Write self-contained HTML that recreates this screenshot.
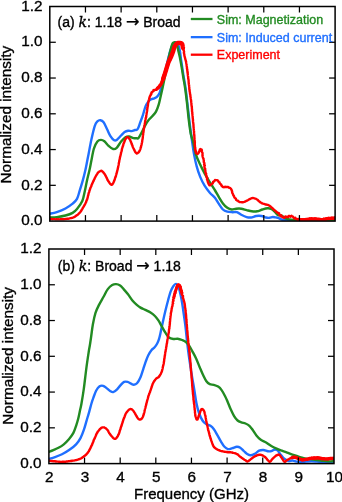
<!DOCTYPE html>
<html><head><meta charset="utf-8"><title>Normalized intensity vs frequency</title>
<style>html,body{margin:0;padding:0;background:#fff;overflow:hidden}svg{display:block}</style>
</head><body>
<svg width="342" height="502" viewBox="0 0 342 502">
<defs><clipPath id="ca"><rect x="49.80" y="6.50" width="285.30" height="214.60"/></clipPath><clipPath id="cb"><rect x="48.90" y="249.00" width="285.10" height="214.60"/></clipPath></defs>
<rect width="342" height="502" fill="#fff"/>
<g clip-path="url(#ca)"><path d="M49.50,213.80C50.72,213.52 54.13,212.98 56.80,212.10C59.47,211.22 62.87,209.90 65.50,208.50C68.13,207.10 70.68,205.30 72.60,203.70C74.52,202.10 75.82,201.07 77.00,198.90C78.18,196.73 78.73,193.78 79.70,190.70C80.67,187.62 81.85,183.85 82.80,180.40C83.75,176.95 84.67,173.23 85.40,170.00C86.13,166.77 86.67,163.68 87.20,161.00C87.73,158.32 87.92,157.42 88.60,153.90C89.28,150.38 90.27,144.58 91.30,139.90C92.33,135.22 93.78,128.88 94.80,125.80C95.82,122.72 96.47,122.33 97.40,121.40C98.33,120.47 99.37,120.05 100.40,120.20C101.43,120.35 102.48,120.78 103.60,122.30C104.72,123.82 105.93,126.95 107.10,129.30C108.27,131.65 109.43,134.58 110.60,136.40C111.77,138.22 113.08,139.62 114.10,140.20C115.12,140.78 115.53,140.68 116.70,139.90C117.87,139.12 119.78,136.82 121.10,135.50C122.42,134.18 123.43,132.80 124.60,132.00C125.77,131.20 126.93,130.85 128.10,130.70C129.27,130.55 130.45,131.22 131.60,131.10C132.75,130.98 134.00,130.32 135.00,130.00C136.00,129.68 136.72,130.50 137.60,129.20C138.48,127.90 139.42,124.55 140.30,122.20C141.18,119.85 142.03,117.73 142.90,115.10C143.77,112.47 144.62,108.62 145.50,106.40C146.38,104.18 147.32,102.97 148.20,101.80C149.08,100.63 149.78,99.98 150.80,99.40C151.82,98.82 153.28,98.73 154.30,98.30C155.32,97.87 156.02,97.68 156.90,96.80C157.78,95.92 158.87,94.63 159.60,93.00C160.33,91.37 160.72,88.87 161.30,87.00C161.88,85.13 162.45,84.30 163.10,81.80C163.75,79.30 164.45,75.47 165.20,72.00C165.95,68.53 166.77,64.50 167.60,61.00C168.43,57.50 169.38,53.67 170.20,51.00C171.02,48.33 171.78,46.38 172.50,45.00C173.22,43.62 173.88,43.13 174.50,42.70C175.12,42.27 175.65,42.22 176.20,42.40C176.75,42.58 177.20,42.43 177.80,43.80C178.40,45.17 179.25,47.90 179.80,50.60C180.35,53.30 180.53,56.12 181.10,60.00C181.67,63.88 182.42,68.93 183.20,73.90C183.98,78.87 185.02,84.12 185.80,89.80C186.58,95.48 187.20,101.97 187.90,108.00C188.60,114.03 189.33,120.67 190.00,126.00C190.67,131.33 191.23,135.32 191.90,140.00C192.57,144.68 193.20,149.70 194.00,154.10C194.80,158.50 195.67,162.60 196.70,166.40C197.73,170.20 198.88,173.68 200.20,176.90C201.52,180.12 203.00,183.07 204.60,185.70C206.20,188.33 208.05,190.65 209.80,192.70C211.55,194.75 213.65,196.22 215.10,198.00C216.55,199.78 217.20,201.48 218.50,203.40C219.80,205.32 221.43,208.12 222.90,209.50C224.37,210.88 225.70,211.25 227.30,211.70C228.90,212.15 230.90,212.12 232.50,212.20C234.10,212.28 235.43,211.77 236.90,212.20C238.37,212.63 239.68,213.98 241.30,214.80C242.92,215.62 244.98,216.65 246.60,217.10C248.22,217.55 249.40,217.68 251.00,217.50C252.60,217.32 254.45,216.25 256.20,216.00C257.95,215.75 259.88,215.75 261.50,216.00C263.12,216.25 264.58,217.20 265.90,217.50C267.22,217.80 268.27,217.88 269.40,217.80C270.53,217.72 271.68,217.07 272.70,217.00C273.72,216.93 274.62,217.27 275.50,217.40C276.38,217.53 276.97,217.43 278.00,217.80C279.03,218.17 280.45,219.18 281.70,219.60C282.95,220.02 283.78,220.15 285.50,220.30C287.22,220.45 289.58,220.47 292.00,220.50C294.42,220.53 297.00,220.48 300.00,220.50C303.00,220.52 306.67,220.58 310.00,220.60C313.33,220.62 315.83,220.60 320.00,220.60C324.17,220.60 332.50,220.60 335.00,220.60" fill="none" stroke="#1f6fff" stroke-width="2.40" stroke-linejoin="round" stroke-linecap="butt"/><path d="M49.50,217.50C50.72,217.43 54.13,217.43 56.80,217.10C59.47,216.77 62.87,216.20 65.50,215.50C68.13,214.80 70.68,213.98 72.60,212.90C74.52,211.82 75.38,210.97 77.00,209.00C78.62,207.03 80.98,204.15 82.30,201.10C83.62,198.05 84.12,194.15 84.90,190.70C85.68,187.25 86.23,183.85 87.00,180.40C87.77,176.95 88.78,173.23 89.50,170.00C90.22,166.77 90.57,164.55 91.30,161.00C92.03,157.45 92.88,151.93 93.90,148.70C94.92,145.47 96.23,143.07 97.40,141.60C98.57,140.13 99.73,139.95 100.90,139.90C102.07,139.85 103.08,140.28 104.40,141.30C105.72,142.32 107.33,144.72 108.80,146.00C110.27,147.28 111.88,148.70 113.20,149.00C114.52,149.30 115.38,149.03 116.70,147.80C118.02,146.57 119.63,143.37 121.10,141.60C122.57,139.83 124.18,138.07 125.50,137.20C126.82,136.33 127.68,136.25 129.00,136.40C130.32,136.55 132.08,137.78 133.40,138.10C134.72,138.42 136.05,138.32 136.90,138.30C137.75,138.28 137.65,139.08 138.50,138.00C139.35,136.92 140.83,134.00 142.00,131.80C143.17,129.60 144.33,126.85 145.50,124.80C146.67,122.75 147.83,120.97 149.00,119.50C150.17,118.03 151.33,117.32 152.50,116.00C153.67,114.68 154.97,113.50 156.00,111.60C157.03,109.70 157.97,106.93 158.70,104.60C159.43,102.27 159.82,100.12 160.40,97.60C160.98,95.08 161.57,92.43 162.20,89.50C162.83,86.57 163.32,84.35 164.20,80.00C165.08,75.65 166.47,68.30 167.50,63.40C168.53,58.50 169.60,53.83 170.40,50.60C171.20,47.37 171.75,45.35 172.30,44.00C172.85,42.65 173.22,42.77 173.70,42.50C174.18,42.23 174.72,42.15 175.20,42.40C175.68,42.65 176.08,42.63 176.60,44.00C177.12,45.37 177.77,48.43 178.30,50.60C178.83,52.77 179.25,54.28 179.80,57.00C180.35,59.72 181.02,63.48 181.60,66.90C182.18,70.32 182.72,73.98 183.30,77.50C183.88,81.02 184.48,83.75 185.10,88.00C185.72,92.25 186.38,97.65 187.00,103.00C187.62,108.35 188.17,114.93 188.80,120.10C189.43,125.27 190.07,130.35 190.80,134.00C191.53,137.65 192.37,138.65 193.20,142.00C194.03,145.35 194.78,150.63 195.80,154.10C196.82,157.57 197.83,159.58 199.30,162.80C200.77,166.02 202.85,170.17 204.60,173.40C206.35,176.63 208.05,179.35 209.80,182.20C211.55,185.05 213.65,188.13 215.10,190.50C216.55,192.87 217.20,194.25 218.50,196.40C219.80,198.55 221.43,201.50 222.90,203.40C224.37,205.30 225.83,206.78 227.30,207.80C228.77,208.82 230.23,209.35 231.70,209.50C233.17,209.65 234.50,208.83 236.10,208.70C237.70,208.57 239.55,208.47 241.30,208.70C243.05,208.93 244.85,209.67 246.60,210.10C248.35,210.53 250.05,211.10 251.80,211.30C253.55,211.50 255.33,211.60 257.10,211.30C258.87,211.00 260.65,210.00 262.40,209.50C264.15,209.00 266.15,208.40 267.60,208.30C269.05,208.20 269.93,208.37 271.10,208.90C272.27,209.43 273.48,210.48 274.60,211.50C275.72,212.52 276.62,214.30 277.80,215.00C278.98,215.70 280.42,215.13 281.70,215.70C282.98,216.27 283.90,217.75 285.50,218.40C287.10,219.05 288.88,219.35 291.30,219.60C293.72,219.85 296.88,219.83 300.00,219.90C303.12,219.97 306.67,219.98 310.00,220.00C313.33,220.02 315.83,220.03 320.00,220.00C324.17,219.97 332.50,219.83 335.00,219.80" fill="none" stroke="#228b22" stroke-width="2.40" stroke-linejoin="round" stroke-linecap="butt"/><path d="M49.50,218.95 L50.28,219.05 L50.96,219.05 L51.74,219.14 L52.60,219.19 L53.53,219.13 L54.47,219.15 L55.42,219.35 L56.35,219.25 L57.19,219.25 L57.98,219.40 L58.81,219.29 L59.66,219.35 L60.51,219.26 L61.38,219.27 L62.24,219.14 L63.09,219.20 L63.93,219.20 L64.73,219.07 L65.50,219.05 L66.38,218.94 L67.23,218.72 L68.09,218.74 L68.92,218.58 L69.71,218.38 L70.47,218.17 L71.25,218.17 L71.94,217.90 L72.61,217.74 L73.53,217.42 L74.31,217.00 L75.06,216.61 L75.67,216.07 L76.37,215.65 L76.99,215.09 L77.68,214.71 L78.26,214.29 L78.72,213.73 L79.29,213.19 L79.93,212.47 L80.78,211.55 L81.03,210.98 L81.43,210.43 L81.76,209.77 L82.20,209.12 L82.60,208.41 L83.02,207.67 L83.49,206.93 L83.93,206.15 L84.41,205.39 L84.79,204.57 L85.24,203.80 L85.61,203.01 L86.00,202.25 L86.28,201.48 L86.50,200.69 L86.92,199.97 L87.21,199.20 L87.44,198.42 L87.60,197.63 L87.84,196.87 L87.94,196.07 L88.25,195.33 L88.40,194.55 L88.54,193.76 L88.70,192.98 L89.07,192.26 L89.34,191.50 L89.42,190.67 L89.83,189.95 L90.05,189.13 L90.30,188.32 L90.63,187.53 L91.03,186.77 L91.37,185.98 L91.53,185.12 L91.96,184.39 L92.18,183.57 L92.63,182.87 L92.88,182.11 L93.30,181.44 L93.63,180.77 L93.91,179.96 L94.42,179.14 L94.72,178.23 L95.11,177.38 L95.63,176.64 L95.95,175.83 L96.40,175.13 L96.84,174.49 L97.26,173.91 L97.56,173.31 L98.12,172.55 L98.97,171.90 L99.59,171.30 L100.27,171.09 L100.82,170.88 L101.73,170.82 L102.61,171.59 L103.03,172.05 L103.50,172.62 L104.01,173.25 L104.54,173.95 L105.03,174.72 L105.41,175.47 L105.85,176.13 L106.21,176.89 L106.51,177.71 L106.96,178.48 L107.32,179.27 L107.60,180.09 L108.12,180.76 L108.60,181.55 L109.20,182.31 L109.66,183.14 L110.17,183.86 L110.76,184.32 L111.40,184.82 L112.24,184.57 L112.64,183.93 L113.22,183.12 L113.71,181.97 L114.03,181.31 L114.31,180.44 L114.62,179.84 L114.87,179.16 L114.98,178.39 L115.24,177.63 L115.61,176.87 L115.92,176.06 L116.04,175.18 L116.34,174.32 L116.61,173.45 L116.80,172.56 L117.05,171.67 L117.26,170.79 L117.45,170.06 L117.67,169.31 L117.79,168.52 L117.97,167.72 L118.22,166.93 L118.24,166.07 L118.51,165.26 L118.70,164.43 L118.78,163.57 L118.92,162.73 L119.19,161.92 L119.24,161.08 L119.38,160.26 L119.59,159.48 L119.80,158.72 L119.84,157.95 L120.06,157.15 L120.26,156.28 L120.55,155.44 L120.67,154.57 L120.95,153.76 L121.01,152.90 L121.23,152.10 L121.49,151.33 L121.72,150.57 L121.83,149.79 L121.98,149.05 L122.15,148.33 L122.42,147.67 L122.54,146.98 L122.94,146.06 L123.23,145.14 L123.39,144.22 L123.69,143.40 L124.07,142.65 L124.32,141.90 L124.62,141.23 L124.81,140.56 L125.03,139.97 L125.35,139.39 L125.71,138.90 L126.14,137.97 L126.70,137.39 L127.30,137.18 L127.89,137.33 L128.52,137.77 L129.08,138.52 L129.84,139.34 L130.19,139.85 L130.32,140.51 L130.62,141.17 L130.90,141.91 L131.30,142.66 L131.50,143.52 L131.80,144.35 L132.22,145.12 L132.42,145.95 L132.69,146.69 L133.05,147.43 L133.45,148.26 L133.87,149.08 L134.23,149.89 L134.62,150.63 L135.00,151.29 L135.26,151.93 L136.08,152.91 L136.83,153.54 L137.65,153.12 L138.41,152.62 L138.85,151.98 L139.37,151.25 L139.83,150.37 L140.27,149.37 L140.52,148.50 L140.62,147.81 L140.96,147.15 L141.05,146.38 L141.26,145.60 L141.51,144.81 L141.66,143.96 L141.82,143.10 L142.09,142.24 L142.19,141.34 L142.29,140.44 L142.41,139.63 L142.65,138.92 L142.67,138.17 L142.83,137.43 L142.84,136.67 L142.89,135.90 L143.05,135.13 L143.19,134.34 L143.15,133.52 L143.37,132.71 L143.50,131.87 L143.59,131.00 L143.72,130.12 L143.70,129.18 L143.94,128.48 L144.11,127.76 L144.09,126.98 L144.27,126.23 L144.41,125.45 L144.61,124.68 L144.74,123.88 L144.90,123.07 L145.12,122.27 L145.12,121.42 L145.29,120.59 L145.47,119.75 L145.63,118.91 L145.78,118.07 L146.11,117.25 L146.24,116.39 L146.24,115.51 L146.47,114.72 L146.56,113.94 L146.68,113.14 L146.82,112.32 L147.00,111.49 L147.12,110.64 L147.20,109.78 L147.29,108.91 L147.45,108.05 L147.53,107.18 L147.74,106.34 L147.90,105.50 L147.96,104.66 L148.04,103.84 L148.19,103.05 L148.36,102.30 L148.54,101.57 L148.71,100.88 L148.77,100.21 L148.99,99.61 L149.18,98.72 L149.46,97.63 L149.77,96.67 L150.13,95.82 L150.77,95.20 L150.71,94.32 L151.43,93.91 L151.43,93.17 L151.45,92.47 L152.52,91.69 L153.33,91.28 L153.52,90.07 L154.43,90.20 L155.09,89.75 L156.16,89.91 L156.92,89.50 L157.07,88.24 L158.22,88.38 L158.76,87.71 L158.80,86.50 L159.65,86.00 L159.68,84.98 L161.02,84.87 L161.19,84.01 L161.90,83.37 L162.14,82.48 L162.32,81.56 L162.77,80.76 L162.84,79.87 L162.45,78.86 L163.46,78.38 L162.85,77.30 L163.33,76.59 L164.56,76.13 L163.71,74.96 L164.05,74.19 L164.31,73.43 L165.75,73.04 L164.92,71.93 L164.92,71.07 L166.41,70.67 L165.54,69.56 L166.87,69.13 L166.84,68.30 L167.31,67.66 L167.75,66.88 L167.42,65.91 L167.99,65.24 L167.06,64.11 L168.42,63.72 L168.31,62.81 L168.92,62.13 L168.33,61.02 L169.61,60.69 L170.24,60.07 L169.36,58.69 L170.11,58.11 L170.83,57.52 L171.56,56.95 L171.02,55.84 L171.26,54.98 L171.78,54.23 L172.49,53.56 L172.93,52.81 L172.80,51.88 L173.02,51.14 L173.28,50.46 L173.50,49.51 L173.78,48.69 L173.58,47.81 L174.32,47.19 L175.19,46.70 L175.04,45.61 L175.87,45.06 L175.86,43.93 L176.87,43.79 L177.53,43.46 L178.33,43.16 L179.20,42.96 L180.00,42.98 L180.89,43.29 L181.39,43.83 L182.52,43.85 L182.89,44.81 L182.27,45.81 L182.31,47.10 L182.96,47.92 L183.19,48.61 L183.01,49.44 L183.80,50.14 L183.86,51.01 L184.11,51.87 L183.82,52.83 L184.13,53.67 L184.31,54.50 L184.38,55.33 L184.50,56.12 L184.80,56.85 L184.90,57.58 L185.14,58.25 L185.23,58.94 L185.46,59.62 L185.70,60.34 L185.90,61.12 L186.12,61.98 L186.21,62.97 L186.38,63.81 L186.53,64.47 L186.60,65.19 L186.72,65.93 L186.74,66.71 L186.98,67.49 L186.93,68.33 L187.14,69.15 L187.23,70.01 L187.37,70.86 L187.41,71.73 L187.53,72.59 L187.69,73.44 L187.81,74.29 L187.86,75.13 L187.94,75.95 L188.13,76.73 L188.15,77.51 L188.21,78.38 L188.41,79.23 L188.55,80.08 L188.63,80.92 L188.62,81.77 L188.71,82.59 L188.74,83.42 L188.84,84.23 L189.04,85.03 L189.13,85.83 L189.20,86.63 L189.29,87.42 L189.28,88.23 L189.33,89.02 L189.42,89.81 L189.65,90.63 L189.64,91.47 L189.87,92.27 L189.96,93.08 L190.02,93.89 L190.27,94.67 L190.39,95.46 L190.36,96.28 L190.59,97.05 L190.69,97.85 L190.76,98.66 L190.86,99.47 L191.10,100.26 L191.13,101.10 L191.21,101.89 L191.29,102.68 L191.43,103.44 L191.43,104.22 L191.44,105.00 L191.63,105.76 L191.68,106.55 L191.84,107.33 L191.89,108.14 L191.89,108.97 L192.08,109.81 L192.00,110.69 L192.08,111.60 L192.33,112.51 L192.25,113.36 L192.43,114.09 L192.42,114.86 L192.50,115.65 L192.67,116.46 L192.67,117.30 L192.76,118.15 L192.81,119.01 L193.00,119.87 L192.98,120.75 L193.02,121.63 L193.16,122.49 L193.27,123.35 L193.43,124.19 L193.43,125.03 L193.53,125.85 L193.53,126.65 L193.61,127.42 L193.70,128.15 L193.83,128.85 L193.81,129.71 L193.90,130.68 L194.06,131.58 L193.99,132.46 L194.10,133.28 L194.26,134.07 L194.16,134.85 L194.37,135.59 L194.38,136.34 L194.36,137.09 L194.44,137.84 L194.50,138.61 L194.54,139.40 L194.64,140.21 L194.72,141.07 L194.80,141.95 L194.87,142.86 L194.78,143.78 L194.82,144.69 L194.91,145.59 L194.92,146.47 L195.14,147.31 L195.28,148.11 L195.26,148.88 L194.95,149.63 L195.71,150.15 L195.55,151.18 L195.93,151.73 L195.95,152.89 L196.69,153.45 L197.13,153.84 L197.67,153.96 L198.17,153.48 L198.77,152.66 L198.88,151.55 L199.64,150.92 L199.80,149.65 L200.36,149.03 L201.67,149.54 L201.91,150.27 L201.62,151.27 L201.81,151.93 L202.39,152.58 L202.55,153.37 L202.53,154.25 L202.43,155.17 L202.53,156.09 L202.75,157.00 L203.04,157.91 L203.56,158.78 L203.53,159.74 L203.86,160.61 L203.75,161.47 L203.86,162.23 L204.29,162.96 L204.40,163.77 L204.13,164.66 L204.87,165.39 L204.40,166.34 L204.49,167.20 L204.59,168.06 L205.19,168.83 L205.20,169.69 L205.33,170.53 L205.44,171.36 L205.32,172.21 L205.70,172.95 L206.16,173.65 L205.87,174.46 L206.31,175.10 L206.43,176.07 L206.54,177.05 L207.31,177.87 L206.92,178.94 L207.21,179.83 L207.55,180.67 L207.73,181.50 L207.99,182.26 L208.40,182.90 L208.35,183.62 L209.02,184.24 L209.27,185.25 L210.06,185.40 L210.74,184.62 L211.63,183.94 L212.40,183.67 L212.95,182.96 L213.08,181.85 L214.08,181.49 L214.57,180.83 L214.98,180.06 L215.93,180.12 L216.81,180.15 L217.76,180.45 L218.48,181.42 L218.72,182.09 L219.58,182.38 L219.74,183.34 L220.38,184.01 L221.28,184.51 L221.35,185.58 L222.05,186.08 L222.43,186.79 L223.25,187.05 L224.13,187.20 L224.93,186.79 L225.82,186.97 L226.57,186.96 L227.22,186.98 L228.08,186.93 L228.66,187.49 L229.45,187.76 L230.35,188.20 L231.10,189.09 L231.43,189.69 L231.67,190.39 L232.02,191.12 L232.10,192.00 L232.26,192.88 L232.71,193.67 L233.12,194.46 L233.30,195.33 L233.89,195.95 L234.14,196.68 L234.40,197.52 L235.18,198.12 L235.89,198.71 L236.06,199.75 L236.78,200.26 L237.57,200.57 L238.17,201.03 L238.69,201.52 L239.47,201.97 L240.30,202.09 L241.09,202.17 L241.88,202.24 L242.69,202.30 L243.47,202.06 L244.26,201.90 L245.04,201.55 L245.84,201.19 L246.62,200.79 L247.42,200.46 L248.17,200.05 L248.93,199.58 L249.70,199.13 L250.46,198.70 L251.24,198.41 L251.99,198.11 L252.84,198.04 L253.67,198.17 L254.51,198.33 L255.33,198.66 L256.24,198.92 L256.83,199.36 L257.46,199.84 L258.14,200.33 L258.64,201.05 L259.37,201.50 L260.02,202.00 L260.60,202.50 L261.44,202.88 L262.23,203.34 L263.07,203.62 L263.89,203.86 L264.66,204.10 L265.47,204.48 L266.38,204.55 L267.22,204.76 L268.07,204.91 L268.78,205.35 L269.48,205.66 L270.13,206.14 L270.77,206.67 L271.33,207.31 L271.98,207.82 L272.62,208.31 L273.22,208.81 L273.71,209.45 L274.26,210.06 L274.95,210.60 L275.65,211.08 L276.24,211.62 L276.87,212.20 L277.51,212.79 L278.54,212.93 L279.17,213.48 L279.27,214.64 L279.74,215.43 L281.05,215.20 L281.14,216.59 L282.23,216.46 L282.73,217.24 L283.46,217.67 L284.45,217.82 L285.18,216.47 L286.07,216.67 L287.00,216.91 L287.92,217.26 L288.58,215.92 L289.52,216.03 L290.44,216.72 L291.40,215.77 L292.14,216.40 L292.97,216.71 L293.52,217.58 L294.14,218.34 L295.39,217.79 L295.79,218.84 L296.50,219.16 L297.17,219.60 L298.09,219.49 L298.91,220.19 L299.74,219.49 L300.51,219.60 L301.34,219.35 L302.22,220.11 L303.08,219.66 L303.94,219.32 L304.77,219.14 L305.66,219.85 L306.47,219.60 L307.32,219.65 L308.09,219.09 L308.94,219.13 L309.73,218.58 L310.62,219.29 L311.40,218.30 L312.26,218.89 L313.09,219.29 L313.91,219.17 L314.76,218.37 L315.59,218.60 L316.37,219.48 L317.21,219.27 L317.98,219.70 L318.81,219.81 L319.72,219.35 L320.48,220.08 L321.36,219.92 L322.19,219.37 L323.00,219.36 L323.72,218.82 L324.59,219.11 L325.57,219.69 L326.14,218.35 L327.12,218.82 L327.94,218.06 L328.76,217.94 L329.73,218.66 L330.64,218.04 L331.59,217.72 L332.54,217.82 L333.43,218.47 L334.17,218.36 L334.74,217.53 L334.98,217.82" fill="none" stroke="#ff0000" stroke-width="2.40" stroke-linejoin="round" stroke-linecap="butt"/><path d="M157.20,88.40 L157.82,87.89 L158.45,87.36 L159.08,86.76 L159.70,86.03 L160.19,85.30 L160.58,84.63 L160.96,83.90 L161.34,83.11 L161.71,82.29 L162.07,81.46 L162.43,80.62 L162.75,79.84" fill="none" stroke="#ff0000" stroke-width="3.30" stroke-linejoin="round" stroke-linecap="round"/><path d="M163.04,79.09 L163.32,78.33 L163.60,77.56 L163.87,76.78 L164.14,75.99 L164.41,75.19 L164.67,74.40 L164.92,73.62 L165.17,72.86 L165.41,72.08 L165.65,71.30 L165.88,70.51 L166.12,69.73 L166.35,68.97 L166.58,68.22 L166.80,67.50 L167.06,66.67 L167.30,65.87 L167.53,65.10 L167.77,64.34 L168.02,63.58 L168.29,62.80 L168.60,62.00 L168.91,61.27 L169.25,60.52 L169.61,59.76 L169.99,59.00 L170.36,58.24 L170.73,57.48 L171.08,56.73 L171.40,56.00 L171.74,55.17 L172.06,54.34 L172.36,53.51 L172.65,52.70 L172.92,51.93 L173.17,51.19 L173.40,50.50 L173.68,49.55 L173.87,48.72 L174.06,47.94 L174.32,47.19 L174.69,46.43 L175.13,45.66 L175.63,44.89 L176.17,44.19 L176.72,43.62 L177.41,43.17 L178.30,42.96 L179.20,42.94 L180.00,43.00 L180.93,43.12 L181.69,43.47 L182.15,44.05 L182.35,44.58 L182.49,45.29 L182.67,46.32 L182.86,47.28 L182.99,47.91" fill="none" stroke="#ff0000" stroke-width="4.40" stroke-linejoin="round" stroke-linecap="round"/><path d="M298.11,219.42 L299.00,219.60 L299.72,219.68 L300.51,219.72 L301.35,219.73 L302.21,219.72 L303.08,219.68 L303.95,219.64 L304.80,219.60 L305.63,219.54 L306.46,219.45 L307.29,219.35 L308.11,219.25 L308.94,219.15 L309.77,219.06 L310.60,219.00 L311.43,218.96 L312.26,218.94 L313.09,218.93 L313.91,218.93 L314.74,218.94 L315.57,218.96 L316.40,219.00 L317.23,219.07 L318.06,219.17 L318.89,219.30 L319.71,219.42 L320.54,219.53 L321.37,219.59 L322.20,219.60 L323.02,219.54 L323.82,219.41 L324.62,219.25 L325.43,219.07 L326.26,218.89 L327.11,218.73 L328.00,218.60 L328.81,218.52 L329.71,218.46 L330.66,218.40 L331.63,218.35 L332.56,218.31 L333.42,218.27 L334.17,218.24 L334.77,218.21" fill="none" stroke="#ff0000" stroke-width="3.40" stroke-linejoin="round" stroke-linecap="round"/></g>
<g clip-path="url(#cb)"><path d="M48.70,458.90C49.75,458.60 52.78,457.87 55.00,457.10C57.22,456.33 59.65,455.47 62.00,454.30C64.35,453.13 66.75,451.77 69.10,450.10C71.45,448.43 74.20,446.30 76.10,444.30C78.00,442.30 79.18,440.58 80.50,438.10C81.82,435.62 82.98,432.32 84.00,429.40C85.02,426.48 85.73,423.53 86.60,420.60C87.47,417.67 88.42,414.57 89.20,411.80C89.98,409.03 90.60,406.35 91.30,404.00C92.00,401.65 92.60,399.92 93.40,397.70C94.20,395.48 95.07,392.60 96.10,390.70C97.13,388.80 98.43,387.12 99.60,386.30C100.77,385.48 101.93,385.50 103.10,385.80C104.27,386.10 105.43,387.23 106.60,388.10C107.77,388.97 109.00,390.33 110.10,391.00C111.20,391.67 112.03,392.38 113.20,392.10C114.37,391.82 115.87,390.47 117.10,389.30C118.33,388.13 119.43,386.33 120.60,385.10C121.77,383.87 122.93,382.43 124.10,381.90C125.27,381.37 126.43,381.60 127.60,381.90C128.77,382.20 130.07,383.22 131.10,383.70C132.13,384.18 132.82,384.87 133.80,384.80C134.78,384.73 135.90,384.50 137.00,383.30C138.10,382.10 139.37,379.93 140.40,377.60C141.43,375.27 142.30,372.00 143.20,369.30C144.10,366.60 144.95,363.75 145.80,361.40C146.65,359.05 147.33,357.12 148.30,355.20C149.27,353.28 150.55,351.22 151.60,349.90C152.65,348.58 153.67,348.37 154.60,347.30C155.53,346.23 156.48,344.82 157.20,343.50C157.92,342.18 158.35,341.15 158.90,339.40C159.45,337.65 159.85,335.87 160.50,333.00C161.15,330.13 161.98,325.90 162.80,322.20C163.62,318.50 164.52,314.47 165.40,310.80C166.28,307.13 167.22,303.43 168.10,300.20C168.98,296.97 169.83,293.73 170.70,291.40C171.57,289.07 172.42,287.45 173.30,286.20C174.18,284.95 175.12,283.77 176.00,283.90C176.88,284.03 177.87,285.30 178.60,287.00C179.33,288.70 179.82,291.47 180.40,294.10C180.98,296.73 181.52,299.30 182.10,302.80C182.68,306.30 183.32,310.98 183.90,315.10C184.48,319.22 185.08,323.18 185.60,327.50C186.12,331.82 186.42,335.98 187.00,341.00C187.58,346.02 188.30,351.92 189.10,357.60C189.90,363.28 190.95,369.83 191.80,375.10C192.65,380.37 193.43,384.55 194.20,389.20C194.97,393.85 195.60,399.03 196.40,403.00C197.20,406.97 197.98,410.08 199.00,413.00C200.02,415.92 201.32,418.67 202.50,420.50C203.68,422.33 204.78,423.12 206.10,424.00C207.42,424.88 209.10,424.92 210.40,425.80C211.70,426.68 212.72,427.70 213.90,429.30C215.08,430.90 216.32,433.35 217.50,435.40C218.68,437.45 219.83,439.70 221.00,441.60C222.17,443.50 223.33,445.55 224.50,446.80C225.67,448.05 226.68,448.88 228.00,449.10C229.32,449.32 230.93,448.48 232.40,448.10C233.87,447.72 235.48,446.87 236.80,446.80C238.12,446.73 239.13,447.00 240.30,447.70C241.47,448.40 242.77,450.03 243.80,451.00C244.83,451.97 245.42,452.78 246.50,453.50C247.58,454.22 248.93,455.23 250.30,455.30C251.67,455.37 253.23,454.67 254.70,453.90C256.17,453.13 257.65,451.35 259.10,450.70C260.55,450.05 261.95,449.92 263.40,450.00C264.85,450.08 266.48,451.00 267.80,451.20C269.12,451.40 270.13,451.48 271.30,451.20C272.47,450.92 273.77,449.63 274.80,449.50C275.83,449.37 276.62,449.67 277.50,450.40C278.38,451.13 279.08,452.60 280.10,453.90C281.12,455.20 282.28,457.03 283.60,458.20C284.92,459.37 286.53,460.52 288.00,460.90C289.47,461.28 291.17,460.43 292.40,460.50C293.63,460.57 294.00,461.05 295.40,461.30C296.80,461.55 299.00,461.95 300.80,462.00C302.60,462.05 304.42,461.72 306.20,461.60C307.98,461.48 309.72,461.30 311.50,461.30C313.28,461.30 314.88,461.47 316.90,461.60C318.92,461.73 320.73,462.02 323.60,462.10C326.47,462.18 332.35,462.10 334.10,462.10" fill="none" stroke="#1f6fff" stroke-width="2.40" stroke-linejoin="round" stroke-linecap="butt"/><path d="M48.70,451.90C49.47,451.60 51.67,450.78 53.30,450.10C54.93,449.42 56.75,448.77 58.50,447.80C60.25,446.83 62.03,445.77 63.80,444.30C65.57,442.83 67.50,440.90 69.10,439.00C70.70,437.10 72.23,435.10 73.40,432.90C74.57,430.70 75.30,428.15 76.10,425.80C76.90,423.45 77.53,421.43 78.20,418.80C78.87,416.17 79.57,412.47 80.10,410.00C80.63,407.53 80.78,407.52 81.40,404.00C82.02,400.48 82.97,394.93 83.80,388.90C84.63,382.87 85.58,373.95 86.40,367.80C87.22,361.65 88.12,355.80 88.70,352.00C89.28,348.20 89.50,347.50 89.90,345.00C90.30,342.50 90.60,340.47 91.10,337.00C91.60,333.53 92.17,328.23 92.90,324.20C93.63,320.17 94.48,316.02 95.50,312.80C96.52,309.58 97.68,307.53 99.00,304.90C100.32,302.27 101.93,299.63 103.40,297.00C104.87,294.37 106.33,291.10 107.80,289.10C109.27,287.10 110.80,285.83 112.20,285.00C113.60,284.17 114.88,284.02 116.20,284.10C117.52,284.18 118.87,284.67 120.10,285.50C121.33,286.33 122.28,287.63 123.60,289.10C124.92,290.57 126.53,292.40 128.00,294.30C129.47,296.20 130.93,298.73 132.40,300.50C133.87,302.27 135.45,303.72 136.80,304.90C138.15,306.08 139.08,306.77 140.50,307.60C141.92,308.43 143.63,309.08 145.30,309.90C146.97,310.72 148.90,311.48 150.50,312.50C152.10,313.52 153.58,314.68 154.90,316.00C156.22,317.32 157.23,318.63 158.40,320.40C159.57,322.17 160.73,324.55 161.90,326.60C163.07,328.65 164.23,330.88 165.40,332.70C166.57,334.52 167.58,336.45 168.90,337.50C170.22,338.55 171.83,338.80 173.30,339.00C174.77,339.20 176.23,338.53 177.70,338.70C179.17,338.87 180.78,339.48 182.10,340.00C183.42,340.52 184.45,340.88 185.60,341.80C186.75,342.72 187.87,343.90 189.00,345.50C190.13,347.10 191.22,349.23 192.40,351.40C193.58,353.57 194.88,355.87 196.10,358.50C197.32,361.13 198.53,364.43 199.70,367.20C200.87,369.97 201.98,372.75 203.10,375.10C204.22,377.45 205.28,379.78 206.40,381.30C207.52,382.82 208.58,383.62 209.80,384.20C211.02,384.78 212.32,384.40 213.70,384.80C215.08,385.20 216.78,385.72 218.10,386.60C219.42,387.48 220.43,388.50 221.60,390.10C222.77,391.70 224.12,394.30 225.10,396.20C226.08,398.10 226.58,399.35 227.50,401.50C228.42,403.65 229.50,406.67 230.60,409.10C231.70,411.53 232.93,414.20 234.10,416.10C235.27,418.00 236.40,419.45 237.60,420.50C238.80,421.55 239.98,421.90 241.30,422.40C242.62,422.90 244.15,422.93 245.50,423.50C246.85,424.07 248.17,424.68 249.40,425.80C250.63,426.92 251.73,428.60 252.90,430.20C254.07,431.80 255.08,433.80 256.40,435.40C257.72,437.00 259.18,438.62 260.80,439.80C262.42,440.98 264.35,441.47 266.10,442.50C267.85,443.53 269.55,444.98 271.30,446.00C273.05,447.02 274.83,447.82 276.60,448.60C278.37,449.38 280.15,450.03 281.90,450.70C283.65,451.37 285.35,451.93 287.10,452.60C288.85,453.27 290.58,454.07 292.40,454.70C294.22,455.33 296.38,455.92 298.00,456.40C299.62,456.88 300.73,457.23 302.10,457.60C303.47,457.97 304.63,458.32 306.20,458.60C307.77,458.88 309.72,459.07 311.50,459.30C313.28,459.53 315.10,459.77 316.90,460.00C318.70,460.23 320.50,460.48 322.30,460.70C324.10,460.92 325.73,461.20 327.70,461.30C329.67,461.40 333.03,461.30 334.10,461.30" fill="none" stroke="#228b22" stroke-width="2.40" stroke-linejoin="round" stroke-linecap="butt"/><path d="M48.70,460.62 L49.54,460.74 L50.30,460.84 L51.17,460.97 L52.12,461.04 L53.10,461.19 L54.09,461.11 L55.00,461.29 L55.77,461.47 L56.56,461.51 L57.34,461.66 L58.15,461.60 L58.96,461.76 L59.79,461.79 L60.65,461.89 L61.54,461.92 L62.36,461.79 L63.12,461.80 L63.91,461.76 L64.74,461.82 L65.57,461.72 L66.39,461.51 L67.25,461.54 L68.06,461.30 L68.89,461.29 L69.67,461.09 L70.42,460.95 L71.27,461.01 L72.16,460.74 L73.03,460.60 L73.91,460.61 L74.74,460.43 L75.52,460.15 L76.33,460.11 L77.07,459.83 L77.81,459.63 L78.63,459.26 L79.50,459.09 L80.25,458.72 L81.02,458.42 L81.74,458.02 L82.38,457.51 L83.08,457.08 L83.74,456.57 L84.41,456.07 L85.04,455.54 L85.70,455.02 L86.35,454.46 L86.85,453.73 L87.53,453.12 L87.93,452.46 L88.36,451.79 L88.88,451.14 L89.23,450.37 L89.61,449.60 L90.03,448.85 L90.46,448.09 L90.73,447.25 L91.26,446.59 L91.41,445.80 L91.87,445.14 L92.20,444.41 L92.36,443.60 L92.81,442.91 L93.04,442.13 L93.39,441.39 L93.59,440.60 L93.92,439.86 L94.26,439.13 L94.72,438.42 L94.90,437.58 L95.32,436.84 L95.68,436.08 L96.01,435.32 L96.22,434.54 L96.56,433.85 L96.93,433.21 L97.39,432.53 L97.76,431.68 L98.37,431.03 L98.89,430.37 L99.41,429.78 L99.80,429.12 L100.42,428.78 L100.97,428.11 L101.81,427.64 L102.62,427.38 L103.40,427.35 L104.16,427.35 L104.82,427.74 L105.55,428.13 L106.29,428.71 L107.03,429.48 L107.50,430.02 L107.96,430.68 L108.40,431.42 L108.76,432.25 L109.17,433.06 L109.79,433.73 L110.31,434.42 L110.69,435.19 L111.33,435.83 L111.95,436.55 L112.58,437.23 L113.15,437.92 L113.73,438.48 L114.35,438.77 L115.20,438.86 L115.72,438.57 L116.37,438.27 L116.76,437.54 L117.35,436.80 L117.93,435.90 L118.33,434.77 L118.70,434.24 L119.00,433.61 L119.20,432.89 L119.49,432.15 L119.62,431.32 L119.94,430.52 L120.15,429.67 L120.54,428.86 L120.69,427.97 L120.98,427.12 L121.35,426.31 L121.58,425.49 L121.86,424.71 L122.03,423.89 L122.32,423.07 L122.64,422.25 L122.88,421.39 L123.12,420.54 L123.42,419.71 L123.65,418.87 L123.98,418.09 L124.37,417.35 L124.65,416.61 L124.86,415.88 L125.12,415.21 L125.37,414.59 L125.80,413.63 L126.32,412.81 L126.89,412.11 L127.38,411.45 L127.77,410.80 L128.29,410.35 L128.73,409.93 L129.42,409.37 L130.31,409.06 L131.15,409.18 L131.90,409.42 L132.41,409.88 L133.02,410.37 L133.57,411.11 L134.16,412.03 L134.54,412.61 L135.01,413.28 L135.32,414.13 L135.81,414.94 L136.26,415.76 L136.79,416.50 L137.11,417.27 L137.55,417.83 L138.10,418.61 L138.92,419.26 L139.65,419.63 L140.41,419.53 L141.22,419.16 L141.68,418.62 L142.25,417.97 L142.78,417.02 L143.06,416.43 L143.28,415.53 L143.59,414.90 L143.80,414.18 L143.97,413.40 L144.24,412.61 L144.44,411.77 L144.56,410.90 L144.77,410.04 L144.91,409.16 L145.25,408.34 L145.48,407.52 L145.60,406.70 L145.84,405.93 L146.06,405.14 L146.27,404.34 L146.36,403.50 L146.69,402.73 L146.86,401.92 L147.08,401.12 L147.24,400.33 L147.49,399.56 L147.73,398.81 L147.91,398.07 L148.14,397.36 L148.25,396.52 L148.56,395.67 L148.90,394.85 L149.22,394.06 L149.43,393.25 L149.81,392.52 L150.08,391.77 L150.26,390.98 L150.62,390.26 L150.85,389.48 L151.10,388.65 L151.39,387.83 L151.70,387.00 L151.94,386.16 L152.21,385.35 L152.46,384.55 L152.81,383.84 L153.08,383.13 L153.42,382.51 L153.88,381.66 L154.31,380.86 L154.91,380.27 L155.27,379.56 L155.82,379.08 L156.27,378.57 L157.05,378.01 L157.76,377.61 L158.57,377.25 L159.09,376.52 L159.45,375.91 L159.98,375.33 L160.32,374.56 L160.82,373.80 L161.19,372.89 L161.62,371.91 L161.90,371.28 L162.09,370.58 L162.21,369.82 L162.49,369.07 L162.65,368.27 L162.79,367.43 L162.93,366.57 L163.20,365.73 L163.37,364.86 L163.62,364.00 L163.79,363.12 L163.86,362.35 L163.94,361.57 L164.18,360.81 L164.12,359.98 L164.27,359.18 L164.47,358.38 L164.60,357.55 L164.62,356.71 L164.83,355.90 L165.00,355.08 L165.02,354.23 L165.16,353.41 L165.25,352.59 L165.39,351.79 L165.66,351.01 L165.67,350.20 L165.92,349.43 L166.05,348.64 L166.12,347.84 L166.19,347.04 L166.47,346.26 L166.52,345.43 L166.64,344.60 L166.77,343.75 L167.05,342.90 L167.10,342.00 L167.18,341.26 L167.35,340.51 L167.41,339.74 L167.64,338.99 L167.74,338.20 L167.85,337.41 L168.09,336.63 L168.23,335.83 L168.21,334.99 L168.45,334.19 L168.53,333.36 L168.80,332.56 L168.89,331.72 L168.91,330.87 L169.04,330.03 L169.13,329.19 L169.40,328.43 L169.36,327.62 L169.51,326.82 L169.57,325.99 L169.69,325.16 L169.77,324.32 L169.88,323.49 L169.83,322.63 L170.04,321.80 L170.03,320.96 L170.15,320.13 L170.19,319.31 L170.27,318.50 L170.40,317.71 L170.47,316.94 L170.54,316.18 L170.70,315.46 L170.78,314.63 L170.80,313.70 L170.98,312.82 L171.16,311.97 L171.39,311.15 L171.52,310.33 L171.60,309.52 L171.63,308.72 L171.93,307.98 L171.94,307.20 L172.23,306.47 L172.50,305.75 L172.56,304.99 L172.56,304.16 L173.14,303.36 L172.78,302.41 L172.94,301.56 L173.54,300.81 L173.05,299.87 L173.30,299.08 L173.98,298.41 L173.38,297.50 L174.29,296.92 L174.31,296.19 L174.25,295.30 L174.35,294.33 L175.07,293.58 L175.43,292.79 L174.94,291.78 L175.50,291.13 L175.81,290.42 L176.00,289.70 L176.15,288.69 L176.29,287.68 L177.01,286.94 L177.52,286.26 L177.17,285.30 L178.00,284.64 L178.88,285.10 L179.28,285.49 L179.74,286.17 L180.61,286.69 L180.20,287.74 L180.21,288.72 L180.45,289.68 L181.01,290.55 L181.83,291.09 L181.26,292.04 L182.07,292.66 L181.86,293.57 L181.76,294.46 L182.20,295.22 L182.96,295.91 L183.01,296.76 L182.59,297.70 L183.26,298.35 L183.37,299.10 L183.61,299.81 L183.85,300.51 L183.95,301.26 L184.26,301.99 L184.43,302.79 L184.55,303.66 L184.78,304.59 L184.90,305.27 L184.91,306.01 L184.99,306.75 L185.06,307.52 L185.32,308.29 L185.36,309.10 L185.48,309.92 L185.52,310.77 L185.64,311.61 L185.64,312.48 L185.85,313.34 L186.00,314.21 L185.96,315.10 L186.14,315.84 L186.12,316.60 L186.21,317.36 L186.19,318.14 L186.33,318.92 L186.38,319.71 L186.51,320.51 L186.51,321.32 L186.63,322.12 L186.59,322.95 L186.70,323.76 L186.84,324.58 L186.88,325.41 L186.92,326.25 L186.92,327.09 L187.10,327.89 L187.06,328.68 L187.13,329.46 L187.31,330.23 L187.26,331.02 L187.44,331.80 L187.50,332.59 L187.48,333.39 L187.62,334.18 L187.56,335.00 L187.71,335.82 L187.82,336.64 L187.80,337.49 L188.04,338.33 L187.98,339.22 L188.20,340.09 L188.27,340.99 L188.19,341.75 L188.32,342.50 L188.49,343.25 L188.60,344.02 L188.51,344.82 L188.66,345.61 L188.72,346.41 L188.95,347.20 L188.95,348.03 L189.09,348.84 L189.21,349.66 L189.29,350.49 L189.32,351.33 L189.47,352.16 L189.55,353.00 L189.69,353.83 L189.64,354.68 L189.77,355.52 L189.82,356.36 L189.97,357.18 L189.97,358.00 L190.11,358.80 L190.16,359.62 L190.24,360.44 L190.27,361.27 L190.41,362.09 L190.54,362.93 L190.62,363.77 L190.65,364.61 L190.75,365.45 L190.64,366.30 L190.79,367.13 L190.80,367.97 L191.01,368.79 L190.98,369.62 L190.96,370.44 L191.07,371.25 L191.17,372.04 L191.23,372.83 L191.36,373.59 L191.41,374.35 L191.47,375.09 L191.50,376.00 L191.57,376.88 L191.54,377.76 L191.76,378.61 L191.81,379.47 L191.88,380.31 L191.97,381.14 L192.02,381.96 L192.09,382.77 L192.11,383.57 L192.27,384.34 L192.16,385.13 L192.34,385.89 L192.29,386.65 L192.40,387.39 L192.47,388.12 L192.57,388.84 L192.55,389.67 L192.80,390.56 L192.77,391.47 L192.92,392.35 L192.92,393.23 L192.99,394.08 L193.17,394.90 L193.24,395.70 L193.35,396.49 L193.38,397.25 L193.48,397.98 L193.48,398.69 L193.44,399.37 L193.63,400.00 L193.75,401.00 L193.83,401.84 L193.96,402.54 L193.97,403.21 L194.08,403.88 L194.29,404.61 L194.39,405.48 L194.40,406.34 L194.43,407.07 L194.56,407.87 L194.68,408.72 L194.65,409.62 L194.92,410.51 L195.00,411.43 L194.94,412.34 L195.10,413.21 L195.27,414.03 L195.27,414.81 L195.29,415.52 L195.50,416.10 L195.70,416.82 L195.93,417.47 L196.12,418.05 L196.37,419.05 L196.87,419.54 L197.50,419.55 L197.79,418.69 L198.12,417.92 L198.38,417.00 L198.76,416.06 L199.00,415.10 L199.35,414.28 L199.70,413.48 L200.00,412.57 L200.27,411.62 L200.60,410.74 L201.10,410.06 L201.30,409.39 L201.98,409.01 L202.57,409.11 L203.16,409.63 L203.82,410.46 L204.07,411.04 L204.37,411.67 L204.58,412.57 L204.68,413.26 L204.92,413.99 L205.05,414.80 L205.34,415.61 L205.55,416.48 L205.61,417.39 L205.79,418.30 L205.94,419.21 L206.16,420.10 L206.28,420.98 L206.44,421.80 L206.57,422.60 L206.86,423.39 L207.01,424.21 L207.11,425.06 L207.40,425.86 L207.59,426.69 L207.73,427.53 L207.95,428.34 L208.00,429.19 L208.17,429.99 L208.46,430.75 L208.68,431.51 L208.89,432.32 L209.09,433.20 L209.35,434.05 L209.52,434.92 L209.73,435.76 L210.03,436.56 L210.31,437.35 L210.42,438.17 L210.79,438.89 L211.00,439.63 L211.22,440.34 L211.48,441.15 L211.85,442.03 L212.09,442.91 L212.42,443.73 L212.65,444.53 L213.00,445.24 L213.28,445.94 L213.68,446.53 L214.15,447.21 L214.78,447.82 L215.44,448.30 L216.07,448.79 L216.77,449.14 L217.46,449.58 L218.21,449.92 L218.95,450.26 L219.75,450.49 L220.52,450.88 L221.38,451.06 L222.19,451.22 L222.97,451.39 L223.78,451.56 L224.60,451.71 L225.43,451.91 L226.28,451.95 L227.11,452.01 L227.92,452.24 L228.76,452.27 L229.60,452.21 L230.43,452.27 L231.25,452.36 L232.03,452.50 L232.82,452.76 L233.64,452.94 L234.44,453.07 L235.23,453.23 L236.00,453.58 L236.81,453.98 L237.49,454.39 L238.22,454.85 L238.85,455.51 L239.51,456.14 L240.21,456.71 L240.94,457.16 L241.50,457.70 L242.33,458.21 L243.01,458.80 L243.73,459.20 L244.33,459.69 L244.97,460.05 L245.83,460.52 L246.48,461.10 L247.18,461.50 L247.88,461.31 L248.48,460.97 L249.12,460.49 L249.83,459.97 L250.54,459.41 L251.20,458.81 L251.93,458.40 L252.59,457.84 L253.26,457.25 L254.07,456.88 L254.76,456.37 L255.46,455.92 L256.33,455.72 L257.06,455.20 L257.90,455.01 L258.70,454.79 L259.50,454.77 L260.31,454.72 L261.14,454.87 L261.97,455.17 L262.79,455.54 L263.55,456.04 L264.32,456.48 L264.92,457.04 L265.62,457.57 L266.22,458.23 L266.81,458.86 L267.24,459.56 L267.75,460.05 L268.16,460.51 L268.85,461.36 L269.51,461.81 L270.09,461.63 L270.66,461.31 L271.14,460.65 L271.62,459.87 L272.20,459.14 L272.76,458.44 L273.44,457.93 L274.11,457.36 L274.68,456.66 L275.42,456.20 L275.99,455.65 L276.62,455.33 L277.56,454.84 L278.36,454.54 L279.17,454.75 L279.70,455.07 L280.26,455.61 L280.67,456.37 L281.15,457.14 L281.71,457.83 L282.16,458.53 L282.65,459.30 L283.17,460.09 L283.59,460.86 L284.05,461.46 L284.86,461.82 L285.59,461.44 L286.28,460.66 L287.15,460.08 L287.85,459.64 L288.63,459.23 L289.42,458.78 L290.22,458.40 L290.99,458.05 L291.77,457.78 L292.50,457.42 L293.31,457.39 L294.09,457.45 L294.86,457.33 L295.76,457.23 L296.68,457.25 L297.49,457.58 L298.16,458.21 L298.86,458.79 L299.56,459.33 L300.39,459.58 L301.36,459.29 L302.03,460.30 L302.91,459.42 L303.77,459.99 L304.47,458.99 L305.45,459.79 L306.24,459.53 L307.14,459.77 L307.94,459.49 L308.67,459.00 L309.50,459.02 L310.26,458.73 L311.02,458.44 L311.75,457.78 L312.59,458.13 L313.43,458.60 L314.18,457.64 L315.04,458.63 L315.84,458.00 L316.66,457.79 L317.51,457.26 L318.31,457.85 L319.17,457.64 L319.87,458.42 L320.61,458.90 L321.41,459.06 L322.28,458.76 L323.10,458.53 L323.89,458.24 L324.58,459.12 L325.41,458.97 L326.31,459.20 L327.07,458.69 L328.01,459.33 L328.83,458.29 L329.75,458.32 L330.60,458.17 L331.39,458.59 L332.32,458.93 L333.25,457.90 L333.87,458.58 L334.09,458.77" fill="none" stroke="#ff0000" stroke-width="2.40" stroke-linejoin="round" stroke-linecap="butt"/><path d="M174.04,296.49 L174.20,295.80 L174.44,294.84 L174.68,293.94 L174.92,293.08 L175.16,292.28 L175.40,291.51 L175.64,290.77 L175.88,290.05 L176.16,289.22 L176.47,288.26 L176.77,287.34 L177.08,286.50 L177.39,285.81 L177.70,285.30 L178.60,284.70 L179.50,285.30 L179.77,285.79 L180.03,286.45 L180.29,287.24 L180.54,288.12 L180.80,289.06 L181.07,290.02 L181.30,290.85 L181.50,291.57 L181.70,292.34 L181.90,293.13" fill="none" stroke="#ff0000" stroke-width="3.00" stroke-linejoin="round" stroke-linecap="round"/><path d="M292.13,457.58 L292.90,457.34 L293.69,457.21 L294.48,457.23 L295.26,457.40 L296.07,457.66 L296.88,457.96 L297.70,458.27 L298.50,458.53 L299.30,458.84 L300.09,459.15 L300.89,459.43 L301.70,459.64 L302.51,459.73 L303.33,459.72 L304.15,459.64 L304.97,459.51 L305.79,459.37 L306.60,459.23 L307.41,459.05 L308.21,458.85 L309.00,458.65 L309.80,458.47 L310.60,458.34 L311.40,458.23 L312.19,458.14 L312.99,458.07 L313.80,458.02 L314.61,457.98 L315.43,457.95 L316.25,457.94 L317.07,457.94 L317.89,457.97 L318.70,458.04 L319.51,458.15 L320.31,458.28 L321.10,458.42 L321.90,458.55 L322.69,458.65 L323.46,458.74 L324.21,458.82 L325.00,458.88 L325.84,458.90 L326.68,458.89 L327.51,458.83 L328.41,458.74 L329.33,458.64 L330.21,458.54 L331.02,458.46 L331.70,458.40 L332.81,458.36 L333.59,458.38" fill="none" stroke="#ff0000" stroke-width="3.40" stroke-linejoin="round" stroke-linecap="round"/></g>
<g fill="none" stroke="#000" stroke-width="1.5">
<rect x="49.8" y="6.5" width="285.30" height="214.60"/>
<rect x="48.9" y="249.0" width="285.10" height="214.60"/>
</g>
<g stroke="#000" stroke-width="1.25"><line x1="85.46" y1="221.10" x2="85.46" y2="215.10"/><line x1="85.46" y1="6.50" x2="85.46" y2="12.50"/><line x1="121.12" y1="221.10" x2="121.12" y2="215.10"/><line x1="121.12" y1="6.50" x2="121.12" y2="12.50"/><line x1="156.79" y1="221.10" x2="156.79" y2="215.10"/><line x1="156.79" y1="6.50" x2="156.79" y2="12.50"/><line x1="192.45" y1="221.10" x2="192.45" y2="215.10"/><line x1="192.45" y1="6.50" x2="192.45" y2="12.50"/><line x1="228.11" y1="221.10" x2="228.11" y2="215.10"/><line x1="228.11" y1="6.50" x2="228.11" y2="12.50"/><line x1="263.78" y1="221.10" x2="263.78" y2="215.10"/><line x1="263.78" y1="6.50" x2="263.78" y2="12.50"/><line x1="299.44" y1="221.10" x2="299.44" y2="215.10"/><line x1="299.44" y1="6.50" x2="299.44" y2="12.50"/><line x1="49.80" y1="185.33" x2="55.80" y2="185.33"/><line x1="335.10" y1="185.33" x2="329.10" y2="185.33"/><line x1="49.80" y1="149.57" x2="55.80" y2="149.57"/><line x1="335.10" y1="149.57" x2="329.10" y2="149.57"/><line x1="49.80" y1="113.80" x2="55.80" y2="113.80"/><line x1="335.10" y1="113.80" x2="329.10" y2="113.80"/><line x1="49.80" y1="78.03" x2="55.80" y2="78.03"/><line x1="335.10" y1="78.03" x2="329.10" y2="78.03"/><line x1="49.80" y1="42.27" x2="55.80" y2="42.27"/><line x1="335.10" y1="42.27" x2="329.10" y2="42.27"/></g><g stroke="#000" stroke-width="1.25"><line x1="84.54" y1="463.60" x2="84.54" y2="457.60"/><line x1="84.54" y1="249.00" x2="84.54" y2="255.00"/><line x1="120.18" y1="463.60" x2="120.18" y2="457.60"/><line x1="120.18" y1="249.00" x2="120.18" y2="255.00"/><line x1="155.81" y1="463.60" x2="155.81" y2="457.60"/><line x1="155.81" y1="249.00" x2="155.81" y2="255.00"/><line x1="191.45" y1="463.60" x2="191.45" y2="457.60"/><line x1="191.45" y1="249.00" x2="191.45" y2="255.00"/><line x1="227.09" y1="463.60" x2="227.09" y2="457.60"/><line x1="227.09" y1="249.00" x2="227.09" y2="255.00"/><line x1="262.73" y1="463.60" x2="262.73" y2="457.60"/><line x1="262.73" y1="249.00" x2="262.73" y2="255.00"/><line x1="298.36" y1="463.60" x2="298.36" y2="457.60"/><line x1="298.36" y1="249.00" x2="298.36" y2="255.00"/><line x1="48.90" y1="427.83" x2="54.90" y2="427.83"/><line x1="334.00" y1="427.83" x2="328.00" y2="427.83"/><line x1="48.90" y1="392.07" x2="54.90" y2="392.07"/><line x1="334.00" y1="392.07" x2="328.00" y2="392.07"/><line x1="48.90" y1="356.30" x2="54.90" y2="356.30"/><line x1="334.00" y1="356.30" x2="328.00" y2="356.30"/><line x1="48.90" y1="320.53" x2="54.90" y2="320.53"/><line x1="334.00" y1="320.53" x2="328.00" y2="320.53"/><line x1="48.90" y1="284.77" x2="54.90" y2="284.77"/><line x1="334.00" y1="284.77" x2="328.00" y2="284.77"/></g>
<g font-family="Liberation Sans, Arial, sans-serif" font-size="15.3" fill="#000" stroke="#000" stroke-width="0.35">
<text x="42.40" y="225.30" text-anchor="end">0.0</text><text x="42.40" y="189.53" text-anchor="end">0.2</text><text x="42.40" y="153.77" text-anchor="end">0.4</text><text x="42.40" y="118.00" text-anchor="end">0.6</text><text x="42.40" y="82.23" text-anchor="end">0.8</text><text x="42.40" y="46.47" text-anchor="end">1.0</text><text x="42.40" y="10.70" text-anchor="end">1.2</text><text x="41.50" y="467.80" text-anchor="end">0.0</text><text x="41.50" y="432.03" text-anchor="end">0.2</text><text x="41.50" y="396.27" text-anchor="end">0.4</text><text x="41.50" y="360.50" text-anchor="end">0.6</text><text x="41.50" y="324.73" text-anchor="end">0.8</text><text x="41.50" y="288.97" text-anchor="end">1.0</text><text x="41.50" y="253.20" text-anchor="end">1.2</text><text x="49.30" y="482.10" text-anchor="middle">2</text><text x="84.94" y="482.10" text-anchor="middle">3</text><text x="120.58" y="482.10" text-anchor="middle">4</text><text x="156.21" y="482.10" text-anchor="middle">5</text><text x="191.85" y="482.10" text-anchor="middle">6</text><text x="227.49" y="482.10" text-anchor="middle">7</text><text x="263.12" y="482.10" text-anchor="middle">8</text><text x="298.76" y="482.10" text-anchor="middle">9</text><text x="334.40" y="482.10" text-anchor="middle">10</text></g>
<g font-family="Liberation Sans, Arial, sans-serif" font-size="14" fill="#000" stroke="#000" stroke-width="0.35">
<text x="191.5" y="499" text-anchor="middle" font-size="15">Frequency (GHz)</text>
<text transform="translate(10.6,114.60) rotate(-90)" text-anchor="middle" font-size="15.3">Normalized intensity</text>
<text transform="translate(12.9,355.90) rotate(-90)" text-anchor="middle" font-size="15.3">Normalized intensity</text>
<text x="57.5" y="26.5">(a) <tspan font-family="DejaVu Serif" font-style="italic">k</tspan>: 1.18 <tspan font-family="DejaVu Sans" font-size="16">→</tspan> Broad</text>
<text x="57.8" y="271">(b) <tspan font-family="DejaVu Serif" font-style="italic">k</tspan>: Broad <tspan font-family="DejaVu Sans" font-size="16">→</tspan> 1.18</text>
<g stroke-width="2.3">
<line x1="190.8" y1="19.0" x2="212.5" y2="19.0" stroke="#228b22"/>
<line x1="190.8" y1="37.15" x2="212.5" y2="37.15" stroke="#1f6fff"/>
<line x1="190.8" y1="54.7" x2="212.5" y2="54.7" stroke="#ff0000"/>
</g>
<text font-size="12.5" x="216.8" y="23.6" fill="#228b22" stroke="#228b22">Sim: Magnetization</text>
<text font-size="12.5" x="216.8" y="41.5" fill="#1f6fff" stroke="#1f6fff">Sim: Induced current</text>
<text font-size="12.5" x="216.8" y="58.5" fill="#ff0000" stroke="#ff0000">Experiment</text>
</g>
</svg>
</body></html>
